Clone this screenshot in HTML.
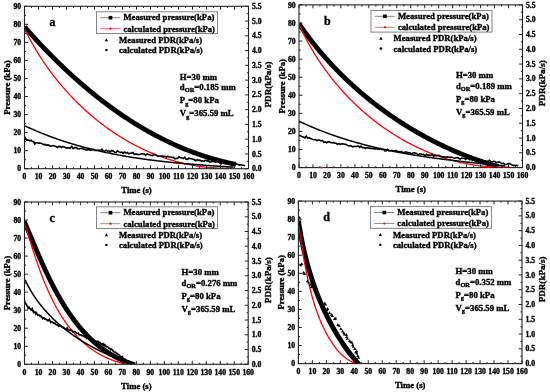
<!DOCTYPE html>
<html><head><meta charset="utf-8"><style>html,body{margin:0;padding:0;background:#fff;width:550px;height:392px;overflow:hidden}svg{display:block}text{fill:#000;stroke:#000;stroke-width:0.35px}</style></head>
<body><svg width="550" height="392" viewBox="0 0 550 392" style="font-family:'Liberation Serif',serif;font-weight:bold">
<clipPath id="clipa"><rect x="24.5" y="6.3" width="224.0" height="162.4"/></clipPath>
<g clip-path="url(#clipa)">
<path d="M24.53,26.79 L25.36,27.75 L26.20,28.70 L27.04,29.66 L27.89,30.61 L28.73,31.56 L29.58,32.52 L30.43,33.47 L31.28,34.41 L32.14,35.36 L33.00,36.31 L33.86,37.26 L34.72,38.20 L35.58,39.14 L36.45,40.09 L37.32,41.03 L38.19,41.97 L39.07,42.91 L39.94,43.84 L40.82,44.78 L41.70,45.71 L42.59,46.64 L43.47,47.58 L44.36,48.51 L45.25,49.43 L46.14,50.36 L47.04,51.29 L47.94,52.21 L48.84,53.13 L49.74,54.05 L50.64,54.97 L51.55,55.89 L52.46,56.80 L53.37,57.72 L54.28,58.63 L55.20,59.54 L56.12,60.44 L57.04,61.35 L57.96,62.26 L58.89,63.16 L59.82,64.06 L60.75,64.96 L61.68,65.85 L62.61,66.75 L63.55,67.64 L64.49,68.53 L65.43,69.42 L66.37,70.30 L67.32,71.19 L68.27,72.07 L69.22,72.95 L70.17,73.83 L71.13,74.70 L72.09,75.57 L73.05,76.44 L74.01,77.31 L74.97,78.18 L75.94,79.04 L76.91,79.90 L77.88,80.76 L78.86,81.62 L79.83,82.47 L80.81,83.32 L81.79,84.17 L82.77,85.01 L83.76,85.86 L84.75,86.70 L85.74,87.54 L86.73,88.37 L87.72,89.20 L88.72,90.03 L89.72,90.86 L90.72,91.68 L91.72,92.51 L92.73,93.32 L93.74,94.14 L94.75,94.95 L95.76,95.76 L96.77,96.57 L97.79,97.37 L98.81,98.17 L99.83,98.97 L100.85,99.77 L101.88,100.56 L102.91,101.35 L103.94,102.13 L104.97,102.91 L106.01,103.69 L107.04,104.47 L108.08,105.24 L109.12,106.01 L110.17,106.78 L111.21,107.54 L112.26,108.30 L113.31,109.05 L114.37,109.81 L115.42,110.56 L116.48,111.30 L117.54,112.04 L118.60,112.78 L119.66,113.52 L120.73,114.25 L121.80,114.98 L122.87,115.70 L123.94,116.42 L125.02,117.14 L126.09,117.85 L127.17,118.56 L128.26,119.27 L129.34,119.97 L130.43,120.67 L131.51,121.36 L132.60,122.05 L133.70,122.74 L134.79,123.42 L135.89,124.10 L136.99,124.78 L138.09,125.45 L139.19,126.11 L140.30,126.78 L141.41,127.44 L142.52,128.09 L143.63,128.74 L144.75,129.39 L145.86,130.03 L146.98,130.67 L148.10,131.30 L149.23,131.93 L150.35,132.55 L151.48,133.18 L152.61,133.79 L153.74,134.40 L154.88,135.01 L156.01,135.62 L157.15,136.21 L158.29,136.81 L159.44,137.40 L160.58,137.98 L161.73,138.56 L162.88,139.14 L164.03,139.71 L165.18,140.28 L166.34,140.84 L167.50,141.40 L168.66,141.95 L169.82,142.50 L170.99,143.04 L172.15,143.58 L173.32,144.12 L174.49,144.65 L175.67,145.17 L176.84,145.69 L178.02,146.20 L179.20,146.71 L180.38,147.22 L181.56,147.72 L182.75,148.21 L183.94,148.70 L185.13,149.18 L186.32,149.66 L187.52,150.14 L188.71,150.61 L189.91,151.07 L191.11,151.53 L192.32,151.98 L193.52,152.43 L194.73,152.87 L195.94,153.31 L197.15,153.74 L198.36,154.17 L199.58,154.59 L200.80,155.00 L202.02,155.41 L203.24,155.82 L204.46,156.22 L205.69,156.61 L206.92,157.00 L208.15,157.38 L209.38,157.76 L210.62,158.13 L211.86,158.50 L213.09,158.86 L214.34,159.21 L215.58,159.56 L216.82,159.90 L218.07,160.24 L219.32,160.57 L220.57,160.89 L221.83,161.21 L223.08,161.53 L224.34,161.83 L225.60,162.14 L226.86,162.43 L228.13,162.72 L229.39,163.00 L230.66,163.28 L231.93,163.55 L233.20,163.82 L234.48,164.08 L235.76,164.33" fill="none" stroke="#000" stroke-width="4.8" stroke-linecap="butt"/>
<path d="M24.68,29.02 L25.25,30.19 L25.83,31.37 L26.42,32.54 L27.01,33.71 L27.61,34.88 L28.21,36.04 L28.83,37.21 L29.44,38.37 L30.07,39.52 L30.70,40.68 L31.33,41.83 L31.97,42.98 L32.62,44.13 L33.27,45.27 L33.93,46.42 L34.60,47.56 L35.27,48.69 L35.94,49.83 L36.63,50.96 L37.31,52.09 L38.01,53.21 L38.71,54.33 L39.41,55.45 L40.13,56.57 L40.84,57.68 L41.57,58.79 L42.29,59.90 L43.03,61.00 L43.77,62.10 L44.51,63.20 L45.26,64.30 L46.02,65.39 L46.78,66.47 L47.55,67.56 L48.32,68.64 L49.10,69.71 L49.88,70.79 L50.67,71.85 L51.47,72.92 L52.27,73.98 L53.07,75.04 L53.88,76.09 L54.70,77.15 L55.52,78.19 L56.34,79.23 L57.18,80.27 L58.01,81.31 L58.85,82.34 L59.70,83.37 L60.55,84.39 L61.41,85.41 L62.27,86.42 L63.14,87.43 L64.01,88.44 L64.89,89.44 L65.77,90.44 L66.66,91.43 L67.55,92.42 L68.45,93.40 L69.35,94.38 L70.26,95.35 L71.17,96.33 L72.09,97.29 L73.01,98.25 L73.94,99.21 L74.87,100.16 L75.80,101.11 L76.74,102.05 L77.69,102.98 L78.64,103.92 L79.59,104.84 L80.55,105.77 L81.52,106.68 L82.49,107.59 L83.46,108.50 L84.44,109.40 L85.42,110.30 L86.41,111.19 L87.40,112.08 L88.39,112.96 L89.39,113.83 L90.40,114.70 L91.41,115.57 L92.42,116.43 L93.44,117.28 L94.46,118.13 L95.48,118.97 L96.51,119.81 L97.55,120.64 L98.59,121.46 L99.63,122.28 L100.68,123.10 L101.73,123.91 L102.79,124.71 L103.85,125.50 L104.91,126.29 L105.98,127.08 L107.05,127.86 L108.13,128.63 L109.21,129.39 L110.29,130.15 L111.38,130.91 L112.47,131.65 L113.57,132.40 L114.67,133.13 L115.77,133.86 L116.88,134.58 L117.99,135.30 L119.10,136.01 L120.22,136.71 L121.35,137.40 L122.47,138.09 L123.60,138.78 L124.74,139.45 L125.87,140.12 L127.01,140.78 L128.16,141.44 L129.31,142.09 L130.46,142.73 L131.62,143.37 L132.77,143.99 L133.94,144.61 L135.10,145.23 L136.27,145.84 L137.45,146.43 L138.62,147.03 L139.80,147.61 L140.99,148.19 L142.17,148.76 L143.36,149.33 L144.56,149.88 L145.75,150.43 L146.95,150.97 L148.16,151.51 L149.36,152.03 L150.57,152.55 L151.78,153.06 L153.00,153.57 L154.22,154.06 L155.44,154.55 L156.67,155.03 L157.89,155.50 L159.13,155.97 L160.36,156.42 L161.60,156.87 L162.84,157.31 L164.08,157.75 L165.33,158.17 L166.58,158.59 L167.83,159.00 L169.08,159.40 L170.34,159.79 L171.60,160.17 L172.86,160.55 L174.13,160.91 L175.40,161.27 L176.67,161.62 L177.94,161.97 L179.22,162.30 L180.50,162.62 L181.78,162.94 L183.07,163.25 L184.36,163.55 L185.65,163.84 L186.94,164.12 L188.23,164.39 L189.53,164.66 L190.83,164.91 L192.13,165.16 L193.44,165.39 L194.75,165.62 L196.06,165.84 L197.37,166.05 L198.68,166.25 L200.00,166.45 L201.32,166.63 L202.64,166.80 L203.96,166.97 L205.29,167.12 L206.62,167.27 L207.95,167.40 L209.28,167.53 L210.61,167.65 L211.95,167.76 L213.29,167.85 L214.63,167.94 L215.97,168.02 L217.32,168.09 L218.67,168.15 L220.02,168.20 L221.37,168.24 L222.72,168.27 L224.07,168.29 L225.43,168.30 L226.79,168.30 L228.15,168.29 L229.51,168.27 L230.88,168.24 L232.24,168.20" fill="none" stroke="#f00" stroke-width="1.3"/>
<path d="M25.17,125.97 L26.15,126.43 L27.14,126.89 L28.12,127.35 L29.11,127.80 L30.10,128.24 L31.09,128.69 L32.08,129.13 L33.07,129.56 L34.06,129.99 L35.05,130.42 L36.05,130.85 L37.04,131.27 L38.04,131.69 L39.03,132.10 L40.03,132.52 L41.03,132.92 L42.03,133.33 L43.03,133.73 L44.03,134.13 L45.04,134.52 L46.04,134.91 L47.04,135.30 L48.05,135.69 L49.06,136.07 L50.06,136.44 L51.07,136.82 L52.08,137.19 L53.09,137.56 L54.10,137.92 L55.12,138.28 L56.13,138.64 L57.14,139.00 L58.16,139.35 L59.17,139.70 L60.19,140.04 L61.21,140.39 L62.22,140.73 L63.24,141.06 L64.26,141.40 L65.28,141.73 L66.30,142.05 L67.33,142.38 L68.35,142.70 L69.37,143.02 L70.40,143.33 L71.42,143.65 L72.45,143.96 L73.48,144.26 L74.50,144.57 L75.53,144.87 L76.56,145.16 L77.59,145.46 L78.62,145.75 L79.65,146.04 L80.69,146.33 L81.72,146.61 L82.75,146.89 L83.79,147.17 L84.82,147.45 L85.86,147.72 L86.90,147.99 L87.93,148.26 L88.97,148.52 L90.01,148.79 L91.05,149.05 L92.09,149.30 L93.13,149.56 L94.17,149.81 L95.21,150.06 L96.25,150.31 L97.30,150.55 L98.34,150.79 L99.38,151.03 L100.43,151.27 L101.47,151.50 L102.52,151.73 L103.57,151.96 L104.61,152.19 L105.66,152.42 L106.71,152.64 L107.76,152.86 L108.81,153.08 L109.86,153.29 L110.91,153.51 L111.96,153.72 L113.01,153.92 L114.06,154.13 L115.12,154.34 L116.17,154.54 L117.22,154.74 L118.28,154.93 L119.33,155.13 L120.39,155.32 L121.44,155.51 L122.50,155.70 L123.56,155.89 L124.61,156.08 L125.67,156.26 L126.73,156.44 L127.79,156.62 L128.85,156.79 L129.90,156.97 L130.96,157.14 L132.02,157.31 L133.08,157.48 L134.14,157.65 L135.21,157.81 L136.27,157.98 L137.33,158.14 L138.39,158.30 L139.45,158.46 L140.52,158.61 L141.58,158.76 L142.64,158.92 L143.71,159.07 L144.77,159.22 L145.84,159.36 L146.90,159.51 L147.97,159.65 L149.03,159.79 L150.10,159.93 L151.16,160.07 L152.23,160.21 L153.30,160.34 L154.37,160.48 L155.43,160.61 L156.50,160.74 L157.57,160.87 L158.64,161.00 L159.70,161.12 L160.77,161.25 L161.84,161.37 L162.91,161.49 L163.98,161.61 L165.05,161.73 L166.12,161.85 L167.19,161.96 L168.26,162.08 L169.33,162.19 L170.40,162.30 L171.47,162.41 L172.54,162.52 L173.61,162.63 L174.68,162.73 L175.75,162.84 L176.82,162.94 L177.89,163.05 L178.96,163.15 L180.04,163.25 L181.11,163.35 L182.18,163.44 L183.25,163.54 L184.32,163.64 L185.40,163.73 L186.47,163.82 L187.54,163.92 L188.61,164.01 L189.68,164.10 L190.76,164.19 L191.83,164.28 L192.90,164.36 L193.97,164.45 L195.04,164.53 L196.12,164.62 L197.19,164.70 L198.26,164.78 L199.33,164.87 L200.41,164.95 L201.48,165.03 L202.55,165.11 L203.62,165.18 L204.70,165.26 L205.77,165.34 L206.84,165.41 L207.91,165.49 L208.98,165.56 L210.06,165.64 L211.13,165.71 L212.20,165.78 L213.27,165.85 L214.34,165.92 L215.41,165.99 L216.49,166.06 L217.56,166.13 L218.63,166.20 L219.70,166.27 L220.77,166.34 L221.84,166.40 L222.91,166.47 L223.98,166.54 L225.05,166.60 L226.12,166.67 L227.19,166.73 L228.26,166.79 L229.33,166.86 L230.40,166.92 L231.47,166.98 L232.54,167.05 L233.61,167.11" fill="none" stroke="#000" stroke-width="1.5"/>
<path d="M24.32,140.03 L25.40,137.95 L26.50,140.02 L27.63,139.89 L28.77,140.35 L29.94,140.86 L31.12,140.23 L32.31,141.56 L33.53,141.55 L34.76,144.18 L36.00,142.79 L37.26,142.77 L38.53,143.11 L39.81,143.17 L41.11,143.23 L42.41,143.86 L43.73,144.59 L45.06,144.44 L46.40,145.34 L47.75,144.93 L49.11,145.27 L50.48,146.32 L51.85,145.97 L53.23,145.59 L54.63,145.96 L56.02,146.55 L57.43,147.49 L58.84,146.45 L60.25,146.64 L61.67,147.49 L63.10,146.61 L64.53,147.09 L65.96,147.88 L67.40,147.87 L68.84,147.74 L70.28,148.20 L71.72,146.41 L73.16,148.67 L74.61,147.71 L76.05,147.46 L77.50,148.66 L78.94,149.02 L80.39,148.52 L81.83,148.30 L83.27,149.04 L84.71,149.12 L86.14,150.05 L87.58,149.82 L89.01,149.64 L90.45,150.28 L91.88,149.68 L93.31,149.41 L94.74,150.37 L96.17,150.49 L97.60,150.18 L99.02,149.99 L100.45,150.67 L101.87,149.30 L103.29,151.18 L104.71,151.19 L106.13,150.15 L107.55,151.21 L108.97,150.77 L110.39,151.84 L111.80,150.43 L113.22,151.17 L114.63,152.19 L116.05,152.56 L117.46,150.86 L118.87,151.90 L120.28,152.48 L121.69,152.09 L123.10,153.42 L124.51,152.02 L125.92,153.00 L127.33,152.35 L128.73,153.83 L130.14,153.17 L131.54,153.10 L132.95,152.49 L134.35,154.48 L135.75,154.10 L137.16,154.23 L138.56,154.56 L139.96,154.26 L141.36,153.84 L142.76,153.88 L144.16,154.01 L145.56,155.34 L146.96,153.91 L148.36,154.51 L149.76,154.80 L151.15,155.23 L152.55,155.55 L153.95,154.68 L155.35,154.55 L156.74,155.63 L158.14,156.43 L159.54,156.32 L160.93,156.15 L162.33,156.00 L163.72,156.47 L165.12,156.31 L166.51,157.03 L167.91,156.28 L169.31,156.93 L170.70,156.94 L172.10,157.44 L173.49,157.40 L174.89,158.82 L176.28,158.39 L177.68,158.53 L179.07,156.73 L180.47,157.81 L181.86,157.80 L183.26,158.58 L184.66,157.18 L186.05,159.23 L187.45,159.32 L188.85,158.16 L190.24,158.49 L191.64,158.74 L193.04,159.36 L194.44,159.84 L195.84,160.77 L197.23,159.69 L198.63,160.38 L200.03,160.20 L201.43,161.25 L202.83,160.85 L204.23,161.35 L205.64,160.17 L207.04,160.82 L208.44,160.64 L209.84,162.09 L211.25,161.79 L212.65,161.43 L214.06,161.52 L215.46,162.20 L216.87,161.72 L218.28,161.77 L219.68,162.72 L221.09,163.99 L222.50,162.68 L223.91,162.69 L225.32,162.53 L226.74,162.62 L228.15,163.83 L229.56,164.19 L230.98,163.92 L232.39,164.28 L233.81,164.36 L235.23,164.56 L236.64,163.84 L238.06,164.62 L239.48,165.13 L240.91,164.83 L242.33,165.20 L243.75,165.21 L245.18,165.68" fill="none" stroke="#000" stroke-width="1.6"/>
</g>
<rect x="24.5" y="6.3" width="224.0" height="162.4" fill="none" stroke="#222" stroke-width="1.1"/>
<path d="M24.50,168.70000000000002v-3.4M24.50,6.3v3.4M31.50,168.70000000000002v-1.6M31.50,6.3v1.6M38.50,168.70000000000002v-3.4M38.50,6.3v3.4M45.50,168.70000000000002v-1.6M45.50,6.3v1.6M52.50,168.70000000000002v-3.4M52.50,6.3v3.4M59.50,168.70000000000002v-1.6M59.50,6.3v1.6M66.50,168.70000000000002v-3.4M66.50,6.3v3.4M73.50,168.70000000000002v-1.6M73.50,6.3v1.6M80.50,168.70000000000002v-3.4M80.50,6.3v3.4M87.50,168.70000000000002v-1.6M87.50,6.3v1.6M94.50,168.70000000000002v-3.4M94.50,6.3v3.4M101.50,168.70000000000002v-1.6M101.50,6.3v1.6M108.50,168.70000000000002v-3.4M108.50,6.3v3.4M115.50,168.70000000000002v-1.6M115.50,6.3v1.6M122.50,168.70000000000002v-3.4M122.50,6.3v3.4M129.50,168.70000000000002v-1.6M129.50,6.3v1.6M136.50,168.70000000000002v-3.4M136.50,6.3v3.4M143.50,168.70000000000002v-1.6M143.50,6.3v1.6M150.50,168.70000000000002v-3.4M150.50,6.3v3.4M157.50,168.70000000000002v-1.6M157.50,6.3v1.6M164.50,168.70000000000002v-3.4M164.50,6.3v3.4M171.50,168.70000000000002v-1.6M171.50,6.3v1.6M178.50,168.70000000000002v-3.4M178.50,6.3v3.4M185.50,168.70000000000002v-1.6M185.50,6.3v1.6M192.50,168.70000000000002v-3.4M192.50,6.3v3.4M199.50,168.70000000000002v-1.6M199.50,6.3v1.6M206.50,168.70000000000002v-3.4M206.50,6.3v3.4M213.50,168.70000000000002v-1.6M213.50,6.3v1.6M220.50,168.70000000000002v-3.4M220.50,6.3v3.4M227.50,168.70000000000002v-1.6M227.50,6.3v1.6M234.50,168.70000000000002v-3.4M234.50,6.3v3.4M241.50,168.70000000000002v-1.6M241.50,6.3v1.6M248.50,168.70000000000002v-3.4M248.50,6.3v3.4M24.5,168.70h3.4M24.5,159.68h1.6M24.5,150.66h3.4M24.5,141.63h1.6M24.5,132.61h3.4M24.5,123.59h1.6M24.5,114.57h3.4M24.5,105.54h1.6M24.5,96.52h3.4M24.5,87.50h1.6M24.5,78.48h3.4M24.5,69.46h1.6M24.5,60.43h3.4M24.5,51.41h1.6M24.5,42.39h3.4M24.5,33.37h1.6M24.5,24.34h3.4M24.5,15.32h1.6M24.5,6.30h3.4M248.5,168.70h-3.4M248.5,161.32h-1.6M248.5,153.94h-3.4M248.5,146.55h-1.6M248.5,139.17h-3.4M248.5,131.79h-1.6M248.5,124.41h-3.4M248.5,117.03h-1.6M248.5,109.65h-3.4M248.5,102.26h-1.6M248.5,94.88h-3.4M248.5,87.50h-1.6M248.5,80.12h-3.4M248.5,72.74h-1.6M248.5,65.35h-3.4M248.5,57.97h-1.6M248.5,50.59h-3.4M248.5,43.21h-1.6M248.5,35.83h-3.4M248.5,28.45h-1.6M248.5,21.06h-3.4M248.5,13.68h-1.6M248.5,6.30h-3.4" stroke="#222" stroke-width="1" fill="none"/>
<g style="font-size:7.7px"><text x="21.20" y="171.30" text-anchor="end">0</text><text x="21.20" y="153.26" text-anchor="end">10</text><text x="21.20" y="135.21" text-anchor="end">20</text><text x="21.20" y="117.17" text-anchor="end">30</text><text x="21.20" y="99.12" text-anchor="end">40</text><text x="21.20" y="81.08" text-anchor="end">50</text><text x="21.20" y="63.03" text-anchor="end">60</text><text x="21.20" y="44.99" text-anchor="end">70</text><text x="21.20" y="26.94" text-anchor="end">80</text><text x="21.20" y="8.90" text-anchor="end">90</text><text x="24.50" y="179.10" text-anchor="middle">0</text><text x="38.50" y="179.10" text-anchor="middle">10</text><text x="52.50" y="179.10" text-anchor="middle">20</text><text x="66.50" y="179.10" text-anchor="middle">30</text><text x="80.50" y="179.10" text-anchor="middle">40</text><text x="94.50" y="179.10" text-anchor="middle">50</text><text x="108.50" y="179.10" text-anchor="middle">60</text><text x="122.50" y="179.10" text-anchor="middle">70</text><text x="136.50" y="179.10" text-anchor="middle">80</text><text x="150.50" y="179.10" text-anchor="middle">90</text><text x="164.50" y="179.10" text-anchor="middle">100</text><text x="178.50" y="179.10" text-anchor="middle">110</text><text x="192.50" y="179.10" text-anchor="middle">120</text><text x="206.50" y="179.10" text-anchor="middle">130</text><text x="220.50" y="179.10" text-anchor="middle">140</text><text x="234.50" y="179.10" text-anchor="middle">150</text><text x="248.50" y="179.10" text-anchor="middle">160</text><text x="252.00" y="171.30">0.0</text><text x="252.00" y="156.54">0.5</text><text x="252.00" y="141.77">1.0</text><text x="252.00" y="127.01">1.5</text><text x="252.00" y="112.25">2.0</text><text x="252.00" y="97.48">2.5</text><text x="252.00" y="82.72">3.0</text><text x="252.00" y="67.95">3.5</text><text x="252.00" y="53.19">4.0</text><text x="252.00" y="38.43">4.5</text><text x="252.00" y="23.66">5.0</text><text x="252.00" y="8.90">5.5</text></g>
<text transform="translate(10.00,87.50) rotate(-90)" text-anchor="middle" style="font-size:8.7px">Pressure (kPa)</text>
<text transform="translate(271.30,84.50) rotate(-90)" text-anchor="middle" style="font-size:9.1px">PDR(kPa/s)</text>
<text x="136.50" y="193.00" text-anchor="middle" style="font-size:8.7px">Time (s)</text>
<text x="49.40" y="26.20" style="font-size:12px">a</text>
<rect x="96.50" y="11.80" width="121" height="21.7" fill="#fff" stroke="#777" stroke-width="0.9"/>
<path d="M100.30,17.70h20" stroke="#666" stroke-width="0.8"/>
<rect x="108.60" y="15.90" width="3.7" height="3.6" fill="#000"/>
<path d="M100.30,28.70h20" stroke="#f44" stroke-width="0.8"/>
<circle cx="110.50" cy="28.70" r="1.1" fill="#f00"/>
<text x="123.40" y="20.10" style="font-size:8.7px">Measured pressure(kPa)</text>
<text x="123.40" y="31.60" style="font-size:8.7px">calculated pressure(kPa)</text>
<path d="M104.70,41.20l1.7,-3l1.7,3z" fill="#000"/>
<text x="119.00" y="42.80" style="font-size:8.7px">Measured PDR(kPa/s)</text>
<circle cx="106.40" cy="50.00" r="1.3" fill="#000"/>
<text x="119.00" y="53.30" style="font-size:8.7px">calculated PDR(kPa/s)</text>
<g style="font-size:8.75px">
<text x="179.80" y="79.50">H=30 mm</text>
<text x="179.80" y="90.00">d<tspan dy="2.3" style="font-size:6.4px">OR</tspan><tspan dy="-2.3">=0.185 mm</tspan></text>
<text x="179.80" y="103.30">P<tspan dy="2.3" style="font-size:6.4px">g</tspan><tspan dy="-2.3">=80 kPa</tspan></text>
<text x="179.80" y="116.20">V<tspan dy="2.3" style="font-size:6.4px">g</tspan><tspan dy="-2.3">=365.59 mL</tspan></text>
</g>
<clipPath id="clipb"><rect x="299.0" y="4.9" width="223.5" height="162.7"/></clipPath>
<g clip-path="url(#clipb)">
<path d="M298.89,23.53 L299.59,24.56 L300.29,25.58 L300.99,26.61 L301.70,27.63 L302.41,28.65 L303.13,29.67 L303.85,30.68 L304.58,31.69 L305.31,32.70 L306.04,33.71 L306.78,34.71 L307.52,35.72 L308.26,36.71 L309.01,37.71 L309.77,38.71 L310.53,39.70 L311.29,40.69 L312.05,41.67 L312.82,42.66 L313.60,43.64 L314.37,44.62 L315.16,45.60 L315.94,46.57 L316.73,47.54 L317.52,48.51 L318.32,49.47 L319.12,50.44 L319.93,51.40 L320.73,52.36 L321.55,53.31 L322.36,54.26 L323.18,55.21 L324.00,56.16 L324.83,57.10 L325.66,58.04 L326.50,58.98 L327.33,59.92 L328.18,60.85 L329.02,61.78 L329.87,62.71 L330.72,63.63 L331.58,64.55 L332.44,65.47 L333.30,66.39 L334.17,67.30 L335.04,68.21 L335.91,69.12 L336.79,70.02 L337.67,70.92 L338.55,71.82 L339.44,72.72 L340.33,73.61 L341.22,74.50 L342.12,75.39 L343.02,76.27 L343.92,77.15 L344.83,78.03 L345.74,78.90 L346.65,79.78 L347.57,80.64 L348.49,81.51 L349.41,82.37 L350.34,83.23 L351.27,84.09 L352.20,84.94 L353.14,85.79 L354.08,86.64 L355.02,87.48 L355.96,88.32 L356.91,89.16 L357.86,89.99 L358.82,90.82 L359.78,91.65 L360.74,92.48 L361.70,93.30 L362.67,94.12 L363.63,94.93 L364.61,95.74 L365.58,96.55 L366.56,97.36 L367.54,98.16 L368.52,98.96 L369.51,99.75 L370.50,100.55 L371.49,101.33 L372.49,102.12 L373.48,102.90 L374.48,103.68 L375.49,104.46 L376.49,105.23 L377.50,106.00 L378.51,106.76 L379.53,107.52 L380.54,108.28 L381.56,109.04 L382.58,109.79 L383.61,110.54 L384.63,111.28 L385.66,112.02 L386.70,112.76 L387.73,113.50 L388.77,114.23 L389.81,114.95 L390.85,115.68 L391.89,116.40 L392.94,117.11 L393.99,117.83 L395.04,118.54 L396.10,119.24 L397.15,119.94 L398.21,120.64 L399.27,121.34 L400.34,122.03 L401.40,122.72 L402.47,123.40 L403.54,124.08 L404.61,124.76 L405.69,125.43 L406.76,126.10 L407.84,126.77 L408.92,127.43 L410.01,128.09 L411.09,128.74 L412.18,129.39 L413.27,130.04 L414.36,130.68 L415.46,131.32 L416.55,131.96 L417.65,132.59 L418.75,133.21 L419.85,133.84 L420.96,134.46 L422.06,135.08 L423.17,135.69 L424.28,136.30 L425.39,136.90 L426.51,137.50 L427.62,138.10 L428.74,138.69 L429.86,139.28 L430.98,139.87 L432.10,140.45 L433.23,141.03 L434.35,141.60 L435.48,142.17 L436.61,142.73 L437.74,143.29 L438.88,143.85 L440.01,144.40 L441.15,144.95 L442.29,145.50 L443.43,146.04 L444.57,146.58 L445.71,147.11 L446.86,147.64 L448.00,148.16 L449.15,148.68 L450.30,149.20 L451.45,149.71 L452.60,150.22 L453.76,150.72 L454.91,151.22 L456.07,151.72 L457.23,152.21 L458.39,152.70 L459.55,153.18 L460.71,153.66 L461.88,154.14 L463.04,154.61 L464.21,155.07 L465.37,155.53 L466.54,155.99 L467.71,156.44 L468.89,156.89 L470.06,157.34 L471.23,157.78 L472.41,158.21 L473.58,158.64 L474.76,159.07 L475.94,159.49 L477.12,159.91 L478.30,160.33 L479.48,160.74 L480.67,161.14 L481.85,161.54 L483.03,161.94 L484.22,162.33 L485.41,162.72 L486.60,163.10 L487.79,163.48 L488.98,163.85 L490.17,164.22 L491.36,164.59 L492.55,164.95 L493.75,165.30 L494.94,165.65 L496.14,166.00 L497.33,166.34 L498.53,166.68" fill="none" stroke="#000" stroke-width="4.8" stroke-linecap="butt"/>
<path d="M298.58,23.15 L299.12,24.38 L299.67,25.61 L300.22,26.83 L300.78,28.06 L301.34,29.28 L301.92,30.49 L302.50,31.71 L303.08,32.92 L303.68,34.13 L304.28,35.33 L304.89,36.54 L305.51,37.74 L306.13,38.93 L306.76,40.13 L307.39,41.32 L308.04,42.51 L308.69,43.69 L309.34,44.88 L310.01,46.05 L310.68,47.23 L311.36,48.40 L312.04,49.57 L312.73,50.74 L313.43,51.90 L314.13,53.06 L314.84,54.22 L315.56,55.37 L316.28,56.52 L317.01,57.67 L317.74,58.81 L318.49,59.95 L319.23,61.08 L319.99,62.22 L320.75,63.34 L321.52,64.47 L322.29,65.59 L323.07,66.70 L323.86,67.82 L324.65,68.92 L325.45,70.03 L326.25,71.13 L327.06,72.23 L327.88,73.32 L328.70,74.41 L329.53,75.49 L330.36,76.57 L331.21,77.65 L332.05,78.72 L332.90,79.78 L333.76,80.85 L334.63,81.90 L335.50,82.96 L336.37,84.01 L337.25,85.05 L338.14,86.09 L339.03,87.13 L339.93,88.16 L340.83,89.18 L341.74,90.20 L342.66,91.22 L343.58,92.23 L344.50,93.24 L345.43,94.24 L346.37,95.24 L347.31,96.23 L348.26,97.22 L349.21,98.20 L350.17,99.17 L351.13,100.14 L352.10,101.11 L353.07,102.07 L354.05,103.03 L355.04,103.98 L356.03,104.92 L357.02,105.86 L358.02,106.80 L359.02,107.72 L360.03,108.65 L361.05,109.57 L362.07,110.48 L363.09,111.38 L364.12,112.28 L365.15,113.18 L366.19,114.07 L367.24,114.95 L368.28,115.83 L369.34,116.70 L370.39,117.57 L371.46,118.42 L372.52,119.28 L373.60,120.13 L374.67,120.97 L375.75,121.80 L376.84,122.63 L377.93,123.45 L379.02,124.27 L380.12,125.08 L381.23,125.88 L382.33,126.68 L383.44,127.47 L384.56,128.26 L385.68,129.04 L386.81,129.81 L387.94,130.57 L389.07,131.33 L390.21,132.08 L391.35,132.83 L392.49,133.56 L393.64,134.30 L394.80,135.02 L395.96,135.74 L397.12,136.45 L398.28,137.15 L399.45,137.85 L400.63,138.54 L401.81,139.22 L402.99,139.90 L404.17,140.56 L405.36,141.23 L406.56,141.88 L407.75,142.53 L408.95,143.17 L410.16,143.80 L411.36,144.42 L412.58,145.04 L413.79,145.65 L415.01,146.25 L416.23,146.84 L417.46,147.43 L418.69,148.01 L419.92,148.58 L421.16,149.14 L422.39,149.70 L423.64,150.25 L424.88,150.79 L426.13,151.32 L427.39,151.85 L428.64,152.36 L429.90,152.87 L431.16,153.37 L432.43,153.86 L433.70,154.35 L434.97,154.82 L436.24,155.29 L437.52,155.75 L438.80,156.20 L440.09,156.64 L441.37,157.08 L442.66,157.50 L443.96,157.92 L445.25,158.33 L446.55,158.73 L447.85,159.12 L449.15,159.50 L450.46,159.88 L451.77,160.24 L453.08,160.60 L454.40,160.95 L455.71,161.29 L457.03,161.62 L458.36,161.94 L459.68,162.25 L461.01,162.55 L462.34,162.85 L463.67,163.13 L465.00,163.41 L466.34,163.68 L467.68,163.93 L469.02,164.18 L470.37,164.42 L471.71,164.65 L473.06,164.87 L474.41,165.08 L475.77,165.28 L477.12,165.48 L478.48,165.66 L479.84,165.83 L481.20,166.00 L482.56,166.15 L483.93,166.29 L485.30,166.43 L486.67,166.55 L488.04,166.67 L489.41,166.77 L490.79,166.87 L492.16,166.95 L493.54,167.02 L494.92,167.09 L496.30,167.14 L497.69,167.19 L499.07,167.22 L500.46,167.25 L501.85,167.26 L503.24,167.27 L504.63,167.26 L506.03,167.24 L507.42,167.21 L508.82,167.18 L510.22,167.13" fill="none" stroke="#f00" stroke-width="1.3"/>
<path d="M299.12,121.21 L300.09,121.67 L301.06,122.14 L302.04,122.59 L303.02,123.05 L303.99,123.50 L304.97,123.94 L305.95,124.39 L306.93,124.83 L307.91,125.26 L308.89,125.69 L309.88,126.12 L310.86,126.55 L311.85,126.97 L312.83,127.39 L313.82,127.80 L314.81,128.22 L315.80,128.63 L316.79,129.03 L317.78,129.43 L318.77,129.83 L319.76,130.23 L320.75,130.62 L321.75,131.01 L322.74,131.39 L323.74,131.78 L324.74,132.16 L325.73,132.53 L326.73,132.90 L327.73,133.27 L328.73,133.64 L329.73,134.00 L330.74,134.37 L331.74,134.72 L332.74,135.08 L333.75,135.43 L334.75,135.78 L335.76,136.12 L336.77,136.47 L337.77,136.80 L338.78,137.14 L339.79,137.48 L340.80,137.81 L341.81,138.13 L342.82,138.46 L343.83,138.78 L344.85,139.10 L345.86,139.42 L346.88,139.73 L347.89,140.04 L348.91,140.35 L349.92,140.66 L350.94,140.96 L351.96,141.26 L352.98,141.56 L354.00,141.85 L355.02,142.14 L356.04,142.43 L357.06,142.72 L358.08,143.01 L359.10,143.29 L360.13,143.57 L361.15,143.84 L362.18,144.12 L363.20,144.39 L364.23,144.66 L365.26,144.93 L366.28,145.19 L367.31,145.45 L368.34,145.71 L369.37,145.97 L370.40,146.22 L371.43,146.48 L372.46,146.73 L373.49,146.98 L374.52,147.22 L375.56,147.46 L376.59,147.71 L377.62,147.94 L378.66,148.18 L379.69,148.42 L380.73,148.65 L381.76,148.88 L382.80,149.11 L383.84,149.33 L384.87,149.56 L385.91,149.78 L386.95,150.00 L387.99,150.21 L389.03,150.43 L390.07,150.64 L391.11,150.86 L392.15,151.07 L393.19,151.27 L394.23,151.48 L395.28,151.68 L396.32,151.88 L397.36,152.08 L398.41,152.28 L399.45,152.48 L400.49,152.67 L401.54,152.87 L402.58,153.06 L403.63,153.25 L404.68,153.43 L405.72,153.62 L406.77,153.80 L407.82,153.98 L408.86,154.16 L409.91,154.34 L410.96,154.52 L412.01,154.70 L413.06,154.87 L414.11,155.04 L415.16,155.21 L416.21,155.38 L417.26,155.55 L418.31,155.72 L419.36,155.88 L420.41,156.04 L421.46,156.21 L422.52,156.37 L423.57,156.52 L424.62,156.68 L425.67,156.84 L426.73,156.99 L427.78,157.15 L428.83,157.30 L429.89,157.45 L430.94,157.60 L432.00,157.75 L433.05,157.89 L434.11,158.04 L435.16,158.18 L436.22,158.33 L437.27,158.47 L438.33,158.61 L439.38,158.75 L440.44,158.89 L441.50,159.02 L442.55,159.16 L443.61,159.30 L444.67,159.43 L445.72,159.56 L446.78,159.70 L447.84,159.83 L448.90,159.96 L449.95,160.09 L451.01,160.21 L452.07,160.34 L453.13,160.47 L454.19,160.59 L455.25,160.72 L456.30,160.84 L457.36,160.96 L458.42,161.09 L459.48,161.21 L460.54,161.33 L461.60,161.45 L462.66,161.57 L463.72,161.68 L464.78,161.80 L465.83,161.92 L466.89,162.03 L467.95,162.15 L469.01,162.27 L470.07,162.38 L471.13,162.49 L472.19,162.61 L473.25,162.72 L474.31,162.83 L475.37,162.94 L476.43,163.05 L477.49,163.16 L478.55,163.27 L479.61,163.38 L480.67,163.49 L481.72,163.60 L482.78,163.71 L483.84,163.82 L484.90,163.92 L485.96,164.03 L487.02,164.14 L488.08,164.24 L489.14,164.35 L490.20,164.46 L491.26,164.56 L492.31,164.67 L493.37,164.77 L494.43,164.88 L495.49,164.98 L496.55,165.09 L497.61,165.19 L498.66,165.30 L499.72,165.40 L500.78,165.50 L501.84,165.61 L502.89,165.71 L503.95,165.82 L505.01,165.92" fill="none" stroke="#000" stroke-width="1.5"/>
<path d="M298.15,135.90 L299.49,135.54 L300.84,136.00 L302.19,136.86 L303.53,137.08 L304.88,137.97 L306.24,136.20 L307.59,138.13 L308.94,137.70 L310.29,138.33 L311.65,139.02 L313.01,139.44 L314.36,139.71 L315.72,139.51 L317.08,140.59 L318.44,139.83 L319.80,140.18 L321.17,140.97 L322.53,140.49 L323.89,142.25 L325.26,141.88 L326.62,142.78 L327.99,141.82 L329.36,141.88 L330.73,142.43 L332.10,142.99 L333.47,142.50 L334.84,143.27 L336.21,143.29 L337.58,144.42 L338.96,143.40 L340.33,144.57 L341.71,143.87 L343.09,143.92 L344.46,144.28 L345.84,144.23 L347.22,145.18 L348.60,145.88 L349.98,145.62 L351.36,146.08 L352.74,146.84 L354.12,146.29 L355.50,146.45 L356.89,146.39 L358.27,145.86 L359.66,147.35 L361.04,146.16 L362.43,147.68 L363.81,147.50 L365.20,148.31 L366.59,147.84 L367.98,147.61 L369.36,148.44 L370.75,148.11 L372.14,148.50 L373.53,148.80 L374.92,148.87 L376.31,149.02 L377.71,148.83 L379.10,149.36 L380.49,148.45 L381.88,149.71 L383.28,149.30 L384.67,150.74 L386.06,150.98 L387.46,149.37 L388.85,150.68 L390.25,150.69 L391.64,150.34 L393.04,151.37 L394.43,150.97 L395.83,150.41 L397.23,151.39 L398.62,151.61 L400.02,151.90 L401.42,151.31 L402.81,152.48 L404.21,152.69 L405.61,151.80 L407.01,152.22 L408.41,152.68 L409.80,152.56 L411.20,153.97 L412.60,153.27 L414.00,152.75 L415.40,153.01 L416.80,153.56 L418.20,155.00 L419.59,153.78 L420.99,154.09 L422.39,154.44 L423.79,154.28 L425.19,155.70 L426.59,154.29 L427.99,155.13 L429.39,154.95 L430.79,155.35 L432.19,154.50 L433.59,156.26 L434.99,155.36 L436.38,155.59 L437.78,155.20 L439.18,155.46 L440.58,156.31 L441.98,156.68 L443.38,156.70 L444.77,157.09 L446.17,156.97 L447.57,156.73 L448.97,157.32 L450.36,157.34 L451.76,157.10 L453.16,157.70 L454.56,158.16 L455.95,157.73 L457.35,157.55 L458.74,158.29 L460.14,159.10 L461.53,158.09 L462.93,158.31 L464.32,158.44 L465.72,159.34 L467.11,157.81 L468.50,159.18 L469.90,159.79 L471.29,158.85 L472.68,160.28 L474.07,159.92 L475.46,159.49 L476.85,160.07 L478.25,159.28 L479.64,159.98 L481.02,161.46 L482.41,160.14 L483.80,161.82 L485.19,160.93 L486.58,161.70 L487.96,161.36 L489.35,160.28 L490.73,161.38 L492.12,161.98 L493.50,161.43 L494.89,161.51 L496.27,162.64 L497.65,162.28 L499.03,161.90 L500.42,162.65 L501.80,163.70 L503.17,163.16 L504.55,164.14 L505.93,164.67 L507.31,164.06 L508.69,163.63 L510.06,163.74 L511.44,164.66 L512.81,165.38 L514.18,165.26 L515.56,165.64 L516.93,165.32 L518.30,165.95" fill="none" stroke="#000" stroke-width="1.6"/>
</g>
<rect x="299.0" y="4.9" width="223.5" height="162.7" fill="none" stroke="#222" stroke-width="1.1"/>
<path d="M299.00,167.6v-3.4M299.00,4.9v3.4M305.98,167.6v-1.6M305.98,4.9v1.6M312.97,167.6v-3.4M312.97,4.9v3.4M319.95,167.6v-1.6M319.95,4.9v1.6M326.94,167.6v-3.4M326.94,4.9v3.4M333.92,167.6v-1.6M333.92,4.9v1.6M340.91,167.6v-3.4M340.91,4.9v3.4M347.89,167.6v-1.6M347.89,4.9v1.6M354.88,167.6v-3.4M354.88,4.9v3.4M361.86,167.6v-1.6M361.86,4.9v1.6M368.84,167.6v-3.4M368.84,4.9v3.4M375.83,167.6v-1.6M375.83,4.9v1.6M382.81,167.6v-3.4M382.81,4.9v3.4M389.80,167.6v-1.6M389.80,4.9v1.6M396.78,167.6v-3.4M396.78,4.9v3.4M403.77,167.6v-1.6M403.77,4.9v1.6M410.75,167.6v-3.4M410.75,4.9v3.4M417.73,167.6v-1.6M417.73,4.9v1.6M424.72,167.6v-3.4M424.72,4.9v3.4M431.70,167.6v-1.6M431.70,4.9v1.6M438.69,167.6v-3.4M438.69,4.9v3.4M445.67,167.6v-1.6M445.67,4.9v1.6M452.66,167.6v-3.4M452.66,4.9v3.4M459.64,167.6v-1.6M459.64,4.9v1.6M466.62,167.6v-3.4M466.62,4.9v3.4M473.61,167.6v-1.6M473.61,4.9v1.6M480.59,167.6v-3.4M480.59,4.9v3.4M487.58,167.6v-1.6M487.58,4.9v1.6M494.56,167.6v-3.4M494.56,4.9v3.4M501.55,167.6v-1.6M501.55,4.9v1.6M508.53,167.6v-3.4M508.53,4.9v3.4M515.52,167.6v-1.6M515.52,4.9v1.6M522.50,167.6v-3.4M522.50,4.9v3.4M299.0,167.60h3.4M299.0,158.56h1.6M299.0,149.52h3.4M299.0,140.48h1.6M299.0,131.44h3.4M299.0,122.41h1.6M299.0,113.37h3.4M299.0,104.33h1.6M299.0,95.29h3.4M299.0,86.25h1.6M299.0,77.21h3.4M299.0,68.17h1.6M299.0,59.13h3.4M299.0,50.09h1.6M299.0,41.06h3.4M299.0,32.02h1.6M299.0,22.98h3.4M299.0,13.94h1.6M299.0,4.90h3.4M522.5,167.60h-3.4M522.5,160.20h-1.6M522.5,152.81h-3.4M522.5,145.41h-1.6M522.5,138.02h-3.4M522.5,130.62h-1.6M522.5,123.23h-3.4M522.5,115.83h-1.6M522.5,108.44h-3.4M522.5,101.04h-1.6M522.5,93.65h-3.4M522.5,86.25h-1.6M522.5,78.85h-3.4M522.5,71.46h-1.6M522.5,64.06h-3.4M522.5,56.67h-1.6M522.5,49.27h-3.4M522.5,41.88h-1.6M522.5,34.48h-3.4M522.5,27.09h-1.6M522.5,19.69h-3.4M522.5,12.30h-1.6M522.5,4.90h-3.4" stroke="#222" stroke-width="1" fill="none"/>
<rect x="319.8" y="166.9" width="3.2" height="1.3" fill="#f00"/>
<g style="font-size:7.7px"><text x="295.70" y="170.20" text-anchor="end">0</text><text x="295.70" y="152.12" text-anchor="end">10</text><text x="295.70" y="134.04" text-anchor="end">20</text><text x="295.70" y="115.97" text-anchor="end">30</text><text x="295.70" y="97.89" text-anchor="end">40</text><text x="295.70" y="79.81" text-anchor="end">50</text><text x="295.70" y="61.73" text-anchor="end">60</text><text x="295.70" y="43.66" text-anchor="end">70</text><text x="295.70" y="25.58" text-anchor="end">80</text><text x="295.70" y="7.50" text-anchor="end">90</text><text x="299.00" y="178.00" text-anchor="middle">0</text><text x="312.97" y="178.00" text-anchor="middle">10</text><text x="326.94" y="178.00" text-anchor="middle">20</text><text x="340.91" y="178.00" text-anchor="middle">30</text><text x="354.88" y="178.00" text-anchor="middle">40</text><text x="368.84" y="178.00" text-anchor="middle">50</text><text x="382.81" y="178.00" text-anchor="middle">60</text><text x="396.78" y="178.00" text-anchor="middle">70</text><text x="410.75" y="178.00" text-anchor="middle">80</text><text x="424.72" y="178.00" text-anchor="middle">90</text><text x="438.69" y="178.00" text-anchor="middle">100</text><text x="452.66" y="178.00" text-anchor="middle">110</text><text x="466.62" y="178.00" text-anchor="middle">120</text><text x="480.59" y="178.00" text-anchor="middle">130</text><text x="494.56" y="178.00" text-anchor="middle">140</text><text x="508.53" y="178.00" text-anchor="middle">150</text><text x="522.50" y="178.00" text-anchor="middle">160</text><text x="526.00" y="170.20">0.0</text><text x="526.00" y="155.41">0.5</text><text x="526.00" y="140.62">1.0</text><text x="526.00" y="125.83">1.5</text><text x="526.00" y="111.04">2.0</text><text x="526.00" y="96.25">2.5</text><text x="526.00" y="81.45">3.0</text><text x="526.00" y="66.66">3.5</text><text x="526.00" y="51.87">4.0</text><text x="526.00" y="37.08">4.5</text><text x="526.00" y="22.29">5.0</text><text x="526.00" y="7.50">5.5</text></g>
<text transform="translate(284.50,86.25) rotate(-90)" text-anchor="middle" style="font-size:8.7px">Pressure (kPa)</text>
<text transform="translate(545.30,83.25) rotate(-90)" text-anchor="middle" style="font-size:9.1px">PDR(kPa/s)</text>
<text x="410.75" y="191.90" text-anchor="middle" style="font-size:8.7px">Time (s)</text>
<text x="323.90" y="24.80" style="font-size:12px">b</text>
<rect x="371.00" y="10.40" width="121" height="21.7" fill="#fff" stroke="#777" stroke-width="0.9"/>
<path d="M374.80,16.30h20" stroke="#666" stroke-width="0.8"/>
<rect x="383.10" y="14.50" width="3.7" height="3.6" fill="#000"/>
<path d="M374.80,27.30h20" stroke="#f44" stroke-width="0.8"/>
<circle cx="385.00" cy="27.30" r="1.1" fill="#f00"/>
<text x="397.90" y="18.70" style="font-size:8.7px">Measured pressure(kPa)</text>
<text x="397.90" y="30.20" style="font-size:8.7px">calculated pressure(kPa)</text>
<path d="M379.20,39.80l1.7,-3l1.7,3z" fill="#000"/>
<text x="393.50" y="41.40" style="font-size:8.7px">Measured PDR(kPa/s)</text>
<circle cx="380.90" cy="48.60" r="1.3" fill="#000"/>
<text x="393.50" y="51.90" style="font-size:8.7px">calculated PDR(kPa/s)</text>
<g style="font-size:8.75px">
<text x="455.90" y="78.10">H=30 mm</text>
<text x="455.90" y="88.60">d<tspan dy="2.3" style="font-size:6.4px">OR</tspan><tspan dy="-2.3">=0.189 mm</tspan></text>
<text x="455.90" y="101.90">P<tspan dy="2.3" style="font-size:6.4px">g</tspan><tspan dy="-2.3">=80 kPa</tspan></text>
<text x="455.90" y="114.80">V<tspan dy="2.3" style="font-size:6.4px">g</tspan><tspan dy="-2.3">=365.59 mL</tspan></text>
</g>
<clipPath id="clipc"><rect x="24.5" y="202.0" width="223.7" height="162.3"/></clipPath>
<g clip-path="url(#clipc)">
<path d="M24.18,221.31 L24.53,222.11 L24.88,222.92 L25.23,223.73 L25.59,224.55 L25.94,225.36 L26.29,226.18 L26.64,227.01 L26.99,227.83 L27.34,228.66 L27.70,229.49 L28.05,230.32 L28.40,231.15 L28.76,231.99 L29.11,232.83 L29.47,233.67 L29.83,234.51 L30.18,235.35 L30.54,236.20 L30.90,237.05 L31.26,237.90 L31.62,238.75 L31.98,239.60 L32.34,240.45 L32.70,241.31 L33.07,242.17 L33.43,243.03 L33.79,243.89 L34.16,244.75 L34.53,245.61 L34.89,246.47 L35.26,247.34 L35.63,248.20 L36.00,249.07 L36.38,249.94 L36.75,250.81 L37.12,251.68 L37.50,252.55 L37.88,253.42 L38.26,254.29 L38.63,255.17 L39.02,256.04 L39.40,256.91 L39.78,257.79 L40.17,258.66 L40.55,259.54 L40.94,260.41 L41.33,261.29 L41.72,262.17 L42.11,263.04 L42.51,263.92 L42.90,264.80 L43.30,265.67 L43.70,266.55 L44.10,267.42 L44.50,268.30 L44.91,269.18 L45.31,270.05 L45.72,270.93 L46.13,271.80 L46.54,272.68 L46.95,273.55 L47.37,274.42 L47.79,275.30 L48.21,276.17 L48.63,277.04 L49.05,277.91 L49.48,278.78 L49.90,279.65 L50.33,280.52 L50.76,281.38 L51.20,282.25 L51.63,283.12 L52.07,283.98 L52.51,284.84 L52.95,285.70 L53.40,286.56 L53.85,287.42 L54.30,288.28 L54.75,289.13 L55.20,289.99 L55.66,290.84 L56.12,291.69 L56.58,292.54 L57.05,293.39 L57.51,294.23 L57.98,295.08 L58.46,295.92 L58.93,296.76 L59.41,297.59 L59.89,298.43 L60.37,299.26 L60.86,300.09 L61.35,300.92 L61.84,301.75 L62.34,302.57 L62.83,303.40 L63.33,304.21 L63.84,305.03 L64.34,305.85 L64.85,306.66 L65.36,307.47 L65.88,308.27 L66.40,309.07 L66.92,309.88 L67.44,310.67 L67.97,311.47 L68.50,312.26 L69.04,313.05 L69.58,313.83 L70.12,314.61 L70.66,315.39 L71.21,316.17 L71.76,316.94 L72.31,317.71 L72.87,318.47 L73.43,319.24 L74.00,319.99 L74.56,320.75 L75.14,321.50 L75.71,322.25 L76.29,322.99 L76.87,323.73 L77.46,324.46 L78.05,325.20 L78.64,325.92 L79.24,326.65 L79.84,327.37 L80.45,328.08 L81.06,328.79 L81.67,329.50 L82.28,330.20 L82.90,330.90 L83.53,331.59 L84.16,332.28 L84.79,332.96 L85.43,333.64 L86.07,334.32 L86.71,334.99 L87.36,335.65 L88.01,336.31 L88.67,336.97 L89.33,337.62 L90.00,338.27 L90.66,338.91 L91.34,339.54 L92.02,340.17 L92.70,340.80 L93.39,341.42 L94.08,342.03 L94.77,342.64 L95.47,343.24 L96.18,343.84 L96.89,344.43 L97.60,345.02 L98.32,345.60 L99.04,346.18 L99.77,346.75 L100.50,347.31 L101.24,347.87 L101.98,348.42 L102.73,348.97 L103.48,349.51 L104.23,350.04 L104.99,350.57 L105.76,351.09 L106.53,351.60 L107.30,352.11 L108.08,352.62 L108.87,353.11 L109.66,353.60 L110.45,354.08 L111.25,354.56 L112.06,355.03 L112.87,355.49 L113.69,355.95 L114.51,356.40 L115.33,356.84 L116.16,357.28 L117.00,357.70 L117.84,358.13 L118.69,358.54 L119.54,358.95 L120.40,359.35 L121.26,359.74 L122.13,360.13 L123.00,360.50 L123.88,360.87 L124.77,361.24 L125.66,361.59 L126.55,361.94 L127.46,362.28 L128.36,362.61 L129.28,362.94 L130.20,363.26 L131.12,363.56 L132.05,363.87 L132.99,364.16 L133.93,364.44 L134.87,364.72" fill="none" stroke="#000" stroke-width="4.8" stroke-linecap="butt"/>
<path d="M24.16,221.80 L24.42,222.62 L24.67,223.43 L24.93,224.25 L25.18,225.08 L25.44,225.90 L25.69,226.73 L25.95,227.56 L26.21,228.40 L26.46,229.24 L26.72,230.08 L26.98,230.92 L27.24,231.77 L27.50,232.62 L27.76,233.47 L28.03,234.32 L28.29,235.17 L28.56,236.03 L28.82,236.89 L29.09,237.75 L29.35,238.62 L29.62,239.49 L29.89,240.35 L30.16,241.22 L30.44,242.10 L30.71,242.97 L30.98,243.84 L31.26,244.72 L31.54,245.60 L31.81,246.48 L32.09,247.36 L32.38,248.24 L32.66,249.13 L32.94,250.01 L33.23,250.90 L33.51,251.79 L33.80,252.68 L34.09,253.57 L34.39,254.46 L34.68,255.35 L34.97,256.24 L35.27,257.13 L35.57,258.03 L35.87,258.92 L36.17,259.82 L36.48,260.71 L36.78,261.61 L37.09,262.50 L37.40,263.40 L37.71,264.30 L38.03,265.19 L38.35,266.09 L38.66,266.99 L38.98,267.88 L39.31,268.78 L39.63,269.68 L39.96,270.57 L40.29,271.47 L40.62,272.36 L40.96,273.26 L41.29,274.15 L41.63,275.05 L41.97,275.94 L42.32,276.83 L42.66,277.72 L43.01,278.61 L43.36,279.50 L43.72,280.39 L44.07,281.28 L44.43,282.17 L44.80,283.05 L45.16,283.94 L45.53,284.82 L45.90,285.70 L46.27,286.59 L46.65,287.46 L47.03,288.34 L47.41,289.22 L47.80,290.09 L48.19,290.97 L48.58,291.84 L48.97,292.71 L49.37,293.57 L49.77,294.44 L50.17,295.30 L50.58,296.16 L50.99,297.02 L51.41,297.88 L51.82,298.73 L52.24,299.58 L52.67,300.43 L53.09,301.28 L53.52,302.12 L53.96,302.96 L54.40,303.80 L54.84,304.64 L55.28,305.47 L55.73,306.30 L56.18,307.13 L56.64,307.96 L57.10,308.78 L57.56,309.60 L58.03,310.41 L58.50,311.22 L58.98,312.03 L59.45,312.84 L59.94,313.64 L60.42,314.44 L60.92,315.23 L61.41,316.02 L61.91,316.81 L62.41,317.59 L62.92,318.37 L63.43,319.15 L63.95,319.92 L64.47,320.68 L64.99,321.45 L65.52,322.21 L66.05,322.96 L66.59,323.71 L67.13,324.46 L67.67,325.20 L68.22,325.94 L68.78,326.67 L69.34,327.40 L69.90,328.12 L70.47,328.84 L71.04,329.55 L71.62,330.26 L72.20,330.97 L72.79,331.67 L73.38,332.36 L73.98,333.05 L74.58,333.73 L75.19,334.41 L75.80,335.08 L76.42,335.75 L77.04,336.41 L77.66,337.07 L78.30,337.72 L78.93,338.36 L79.57,339.00 L80.22,339.64 L80.87,340.26 L81.53,340.89 L82.19,341.50 L82.86,342.11 L83.53,342.72 L84.21,343.31 L84.90,343.90 L85.59,344.49 L86.28,345.07 L86.98,345.64 L87.69,346.21 L88.40,346.76 L89.11,347.32 L89.84,347.86 L90.56,348.40 L91.30,348.93 L92.04,349.46 L92.78,349.98 L93.53,350.49 L94.29,350.99 L95.05,351.49 L95.82,351.98 L96.60,352.46 L97.38,352.94 L98.16,353.40 L98.96,353.86 L99.75,354.32 L100.56,354.76 L101.37,355.20 L102.19,355.63 L103.01,356.05 L103.84,356.46 L104.67,356.87 L105.52,357.27 L106.36,357.66 L107.22,358.04 L108.08,358.41 L108.95,358.78 L109.82,359.14 L110.70,359.49 L111.59,359.83 L112.48,360.16 L113.38,360.48 L114.29,360.80 L115.20,361.10 L116.12,361.40 L117.05,361.69 L117.98,361.97 L118.92,362.24 L119.87,362.50 L120.82,362.75 L121.78,362.99 L122.75,363.23 L123.73,363.45 L124.71,363.67 L125.70,363.87 L126.69,364.07" fill="none" stroke="#f00" stroke-width="1.3"/>
<path d="M25.08,279.79 L25.38,280.43 L25.68,281.07 L25.99,281.72 L26.30,282.35 L26.61,282.99 L26.93,283.62 L27.25,284.25 L27.57,284.88 L27.90,285.50 L28.23,286.13 L28.56,286.75 L28.90,287.36 L29.23,287.98 L29.58,288.59 L29.92,289.20 L30.27,289.81 L30.62,290.41 L30.98,291.01 L31.34,291.61 L31.70,292.21 L32.06,292.81 L32.43,293.40 L32.80,293.99 L33.18,294.58 L33.55,295.16 L33.93,295.74 L34.31,296.32 L34.70,296.90 L35.09,297.48 L35.48,298.05 L35.87,298.62 L36.27,299.19 L36.67,299.75 L37.07,300.32 L37.48,300.88 L37.89,301.43 L38.30,301.99 L38.71,302.54 L39.13,303.09 L39.55,303.64 L39.97,304.19 L40.40,304.73 L40.82,305.27 L41.25,305.81 L41.69,306.35 L42.12,306.88 L42.56,307.41 L43.00,307.94 L43.45,308.47 L43.89,309.00 L44.34,309.52 L44.79,310.04 L45.25,310.56 L45.70,311.07 L46.16,311.58 L46.62,312.09 L47.09,312.60 L47.55,313.11 L48.02,313.61 L48.49,314.11 L48.97,314.61 L49.44,315.11 L49.92,315.60 L50.40,316.10 L50.88,316.59 L51.37,317.07 L51.86,317.56 L52.35,318.04 L52.84,318.52 L53.33,319.00 L53.83,319.48 L54.33,319.95 L54.83,320.42 L55.33,320.89 L55.84,321.36 L56.35,321.82 L56.85,322.29 L57.37,322.75 L57.88,323.20 L58.40,323.66 L58.91,324.11 L59.43,324.57 L59.96,325.02 L60.48,325.46 L61.01,325.91 L61.54,326.35 L62.07,326.79 L62.60,327.23 L63.13,327.66 L63.67,328.10 L64.21,328.53 L64.75,328.96 L65.29,329.39 L65.83,329.81 L66.38,330.24 L66.92,330.66 L67.47,331.08 L68.02,331.49 L68.58,331.91 L69.13,332.32 L69.69,332.73 L70.24,333.14 L70.80,333.54 L71.36,333.95 L71.93,334.35 L72.49,334.75 L73.06,335.15 L73.62,335.54 L74.19,335.93 L74.77,336.32 L75.34,336.71 L75.91,337.10 L76.49,337.49 L77.06,337.87 L77.64,338.25 L78.22,338.63 L78.80,339.00 L79.39,339.38 L79.97,339.75 L80.56,340.12 L81.15,340.49 L81.73,340.86 L82.32,341.22 L82.92,341.58 L83.51,341.94 L84.10,342.30 L84.70,342.66 L85.29,343.01 L85.89,343.36 L86.49,343.71 L87.09,344.06 L87.69,344.41 L88.30,344.75 L88.90,345.09 L89.51,345.43 L90.11,345.77 L90.72,346.11 L91.33,346.44 L91.94,346.77 L92.55,347.10 L93.16,347.43 L93.77,347.76 L94.39,348.08 L95.00,348.41 L95.62,348.73 L96.24,349.05 L96.85,349.36 L97.47,349.68 L98.09,349.99 L98.71,350.30 L99.34,350.61 L99.96,350.92 L100.58,351.22 L101.21,351.52 L101.83,351.83 L102.46,352.12 L103.09,352.42 L103.71,352.72 L104.34,353.01 L104.97,353.30 L105.60,353.59 L106.23,353.88 L106.86,354.17 L107.49,354.45 L108.13,354.73 L108.76,355.02 L109.39,355.29 L110.03,355.57 L110.66,355.85 L111.30,356.12 L111.94,356.39 L112.57,356.66 L113.21,356.93 L113.85,357.19 L114.49,357.46 L115.13,357.72 L115.77,357.98 L116.41,358.24 L117.05,358.50 L117.69,358.75 L118.33,359.00 L118.97,359.26 L119.61,359.51 L120.26,359.75 L120.90,360.00 L121.54,360.25 L122.19,360.49 L122.83,360.73 L123.47,360.97 L124.12,361.21 L124.76,361.44 L125.41,361.68 L126.05,361.91 L126.70,362.14 L127.34,362.37 L127.99,362.59 L128.63,362.82 L129.28,363.04 L129.93,363.26" fill="none" stroke="#000" stroke-width="1.5"/>
<path d="M23.75,301.71 L24.19,302.34 L24.64,302.35 L25.10,302.73 L25.57,303.86 L26.04,304.04 L26.52,304.64 L27.01,306.04 L27.51,306.12 L28.02,308.27 L28.53,307.67 L29.06,307.30 L29.58,308.55 L30.12,308.80 L30.66,308.69 L31.21,310.14 L31.77,309.56 L32.33,308.76 L32.90,311.32 L33.47,310.99 L34.05,312.58 L34.64,311.84 L35.23,311.97 L35.83,313.89 L36.43,312.87 L37.04,313.98 L37.65,315.08 L38.27,314.75 L38.89,315.04 L39.52,315.54 L40.15,316.34 L40.79,315.82 L41.43,316.99 L42.07,317.35 L42.72,318.69 L43.37,317.60 L44.03,317.65 L44.69,318.93 L45.35,318.67 L46.02,319.41 L46.69,319.68 L47.36,320.61 L48.04,319.96 L48.72,320.62 L49.40,319.61 L50.09,320.87 L50.78,322.54 L51.47,321.66 L52.17,321.99 L52.87,322.04 L53.57,323.36 L54.27,323.47 L54.97,323.04 L55.68,324.39 L56.39,324.49 L57.10,325.08 L57.82,324.63 L58.53,326.26 L59.25,325.84 L59.97,325.86 L60.69,325.96 L61.41,326.42 L62.13,327.33 L62.86,327.02 L63.58,328.07 L64.31,328.10 L65.04,328.83 L65.77,328.84 L66.50,328.66 L67.23,327.94 L67.96,329.46 L68.69,330.03 L69.42,329.98 L70.15,330.50 L70.89,330.23 L71.62,330.58 L72.35,330.57 L73.08,332.13 L73.82,331.76 L74.55,331.70 L75.28,331.54 L76.01,332.48 L76.75,333.66 L77.48,333.42 L78.21,333.06 L78.94,334.54 L79.67,334.84 L80.40,334.89 L81.12,335.09 L81.85,335.59 L82.58,335.55 L83.30,335.98 L84.03,335.43 L84.75,336.99 L85.47,336.59 L86.19,337.88 L86.91,335.95 L87.63,337.77 L88.35,338.23 L89.06,337.82 L89.78,338.57 L90.49,339.04 L91.20,339.26 L91.91,338.97 L92.62,339.51 L93.32,340.46 L94.02,340.93 L94.73,340.61 L95.42,340.92 L96.12,341.32 L96.82,342.11 L97.51,341.29 L98.20,341.48 L98.89,342.62 L99.57,342.28 L100.26,342.91 L100.94,343.63 L101.61,344.20 L102.29,343.69 L102.96,345.08 L103.63,344.02 L104.30,345.66 L104.96,344.86 L105.62,345.39 L106.28,346.82 L106.93,346.61 L107.58,346.78 L108.23,347.35 L108.88,348.24 L109.52,348.34 L110.16,348.75 L110.79,349.74 L111.42,349.17 L112.05,349.71 L112.67,350.09 L113.29,351.44 L113.90,351.76 L114.52,352.34 L115.12,352.04 L115.73,352.41 L116.33,353.40 L116.92,353.15 L117.51,354.27 L118.10,354.66 L118.68,354.33 L119.26,355.13 L119.83,355.58 L120.40,357.07 L120.96,358.01 L121.52,357.01 L122.07,357.56 L122.62,356.79 L123.17,358.66 L123.71,359.04 L124.24,358.96 L124.77,360.50 L125.30,359.73 L125.81,360.99 L126.33,361.72 L126.84,361.49" fill="none" stroke="#000" stroke-width="1.6"/>
</g>
<rect x="24.5" y="202.0" width="223.7" height="162.3" fill="none" stroke="#222" stroke-width="1.1"/>
<path d="M24.50,364.3v-3.4M24.50,202.0v3.4M31.49,364.3v-1.6M31.49,202.0v1.6M38.48,364.3v-3.4M38.48,202.0v3.4M45.47,364.3v-1.6M45.47,202.0v1.6M52.46,364.3v-3.4M52.46,202.0v3.4M59.45,364.3v-1.6M59.45,202.0v1.6M66.44,364.3v-3.4M66.44,202.0v3.4M73.43,364.3v-1.6M73.43,202.0v1.6M80.42,364.3v-3.4M80.42,202.0v3.4M87.42,364.3v-1.6M87.42,202.0v1.6M94.41,364.3v-3.4M94.41,202.0v3.4M101.40,364.3v-1.6M101.40,202.0v1.6M108.39,364.3v-3.4M108.39,202.0v3.4M115.38,364.3v-1.6M115.38,202.0v1.6M122.37,364.3v-3.4M122.37,202.0v3.4M129.36,364.3v-1.6M129.36,202.0v1.6M136.35,364.3v-3.4M136.35,202.0v3.4M143.34,364.3v-1.6M143.34,202.0v1.6M150.33,364.3v-3.4M150.33,202.0v3.4M157.32,364.3v-1.6M157.32,202.0v1.6M164.31,364.3v-3.4M164.31,202.0v3.4M171.30,364.3v-1.6M171.30,202.0v1.6M178.29,364.3v-3.4M178.29,202.0v3.4M185.28,364.3v-1.6M185.28,202.0v1.6M192.27,364.3v-3.4M192.27,202.0v3.4M199.27,364.3v-1.6M199.27,202.0v1.6M206.26,364.3v-3.4M206.26,202.0v3.4M213.25,364.3v-1.6M213.25,202.0v1.6M220.24,364.3v-3.4M220.24,202.0v3.4M227.23,364.3v-1.6M227.23,202.0v1.6M234.22,364.3v-3.4M234.22,202.0v3.4M241.21,364.3v-1.6M241.21,202.0v1.6M248.20,364.3v-3.4M248.20,202.0v3.4M24.5,364.30h3.4M24.5,355.28h1.6M24.5,346.27h3.4M24.5,337.25h1.6M24.5,328.23h3.4M24.5,319.22h1.6M24.5,310.20h3.4M24.5,301.18h1.6M24.5,292.17h3.4M24.5,283.15h1.6M24.5,274.13h3.4M24.5,265.12h1.6M24.5,256.10h3.4M24.5,247.08h1.6M24.5,238.07h3.4M24.5,229.05h1.6M24.5,220.03h3.4M24.5,211.02h1.6M24.5,202.00h3.4M248.2,364.30h-3.4M248.2,356.92h-1.6M248.2,349.55h-3.4M248.2,342.17h-1.6M248.2,334.79h-3.4M248.2,327.41h-1.6M248.2,320.04h-3.4M248.2,312.66h-1.6M248.2,305.28h-3.4M248.2,297.90h-1.6M248.2,290.53h-3.4M248.2,283.15h-1.6M248.2,275.77h-3.4M248.2,268.40h-1.6M248.2,261.02h-3.4M248.2,253.64h-1.6M248.2,246.26h-3.4M248.2,238.89h-1.6M248.2,231.51h-3.4M248.2,224.13h-1.6M248.2,216.75h-3.4M248.2,209.38h-1.6M248.2,202.00h-3.4" stroke="#222" stroke-width="1" fill="none"/>
<g style="font-size:7.7px"><text x="21.20" y="366.90" text-anchor="end">0</text><text x="21.20" y="348.87" text-anchor="end">10</text><text x="21.20" y="330.83" text-anchor="end">20</text><text x="21.20" y="312.80" text-anchor="end">30</text><text x="21.20" y="294.77" text-anchor="end">40</text><text x="21.20" y="276.73" text-anchor="end">50</text><text x="21.20" y="258.70" text-anchor="end">60</text><text x="21.20" y="240.67" text-anchor="end">70</text><text x="21.20" y="222.63" text-anchor="end">80</text><text x="21.20" y="204.60" text-anchor="end">90</text><text x="24.50" y="374.70" text-anchor="middle">0</text><text x="38.48" y="374.70" text-anchor="middle">10</text><text x="52.46" y="374.70" text-anchor="middle">20</text><text x="66.44" y="374.70" text-anchor="middle">30</text><text x="80.42" y="374.70" text-anchor="middle">40</text><text x="94.41" y="374.70" text-anchor="middle">50</text><text x="108.39" y="374.70" text-anchor="middle">60</text><text x="122.37" y="374.70" text-anchor="middle">70</text><text x="136.35" y="374.70" text-anchor="middle">80</text><text x="150.33" y="374.70" text-anchor="middle">90</text><text x="164.31" y="374.70" text-anchor="middle">100</text><text x="178.29" y="374.70" text-anchor="middle">110</text><text x="192.27" y="374.70" text-anchor="middle">120</text><text x="206.26" y="374.70" text-anchor="middle">130</text><text x="220.24" y="374.70" text-anchor="middle">140</text><text x="234.22" y="374.70" text-anchor="middle">150</text><text x="248.20" y="374.70" text-anchor="middle">160</text><text x="251.70" y="366.90">0.0</text><text x="251.70" y="352.15">0.5</text><text x="251.70" y="337.39">1.0</text><text x="251.70" y="322.64">1.5</text><text x="251.70" y="307.88">2.0</text><text x="251.70" y="293.13">2.5</text><text x="251.70" y="278.37">3.0</text><text x="251.70" y="263.62">3.5</text><text x="251.70" y="248.86">4.0</text><text x="251.70" y="234.11">4.5</text><text x="251.70" y="219.35">5.0</text><text x="251.70" y="204.60">5.5</text></g>
<text transform="translate(10.00,283.15) rotate(-90)" text-anchor="middle" style="font-size:8.7px">Pressure (kPa)</text>
<text transform="translate(271.00,280.15) rotate(-90)" text-anchor="middle" style="font-size:9.1px">PDR(kPa/s)</text>
<text x="136.35" y="388.60" text-anchor="middle" style="font-size:8.7px">Time (s)</text>
<text x="49.40" y="221.90" style="font-size:12px">c</text>
<rect x="96.50" y="206.80" width="121" height="21.7" fill="#fff" stroke="#777" stroke-width="0.9"/>
<path d="M100.30,212.70h20" stroke="#666" stroke-width="0.8"/>
<rect x="108.60" y="210.90" width="3.7" height="3.6" fill="#000"/>
<path d="M100.30,223.70h20" stroke="#f44" stroke-width="0.8"/>
<circle cx="110.50" cy="223.70" r="1.1" fill="#f00"/>
<text x="123.40" y="215.10" style="font-size:8.7px">Measured pressure(kPa)</text>
<text x="123.40" y="226.60" style="font-size:8.7px">calculated pressure(kPa)</text>
<path d="M104.70,236.20l1.7,-3l1.7,3z" fill="#000"/>
<text x="119.00" y="237.80" style="font-size:8.7px">Measured PDR(kPa/s)</text>
<circle cx="106.40" cy="245.00" r="1.3" fill="#000"/>
<text x="119.00" y="248.30" style="font-size:8.7px">calculated PDR(kPa/s)</text>
<g style="font-size:8.75px">
<text x="181.50" y="275.20">H=30 mm</text>
<text x="181.50" y="285.70">d<tspan dy="2.3" style="font-size:6.4px">OR</tspan><tspan dy="-2.3">=0.276 mm</tspan></text>
<text x="181.50" y="299.00">P<tspan dy="2.3" style="font-size:6.4px">g</tspan><tspan dy="-2.3">=80 kPa</tspan></text>
<text x="181.50" y="311.90">V<tspan dy="2.3" style="font-size:6.4px">g</tspan><tspan dy="-2.3">=365.59 mL</tspan></text>
</g>
<clipPath id="clipd"><rect x="298.4" y="201.1" width="223.6" height="162.5"/></clipPath>
<g clip-path="url(#clipd)">
<path d="M298.51,220.70 L298.62,221.47 L298.73,222.24 L298.84,223.01 L298.95,223.78 L299.07,224.55 L299.19,225.32 L299.31,226.09 L299.43,226.87 L299.55,227.64 L299.67,228.41 L299.80,229.18 L299.93,229.95 L300.06,230.72 L300.19,231.50 L300.32,232.27 L300.46,233.04 L300.59,233.81 L300.73,234.58 L300.87,235.36 L301.01,236.13 L301.16,236.90 L301.30,237.68 L301.45,238.45 L301.60,239.22 L301.75,239.99 L301.90,240.77 L302.05,241.54 L302.21,242.31 L302.37,243.08 L302.53,243.86 L302.69,244.63 L302.85,245.40 L303.02,246.17 L303.18,246.94 L303.35,247.72 L303.52,248.49 L303.70,249.26 L303.87,250.03 L304.05,250.80 L304.22,251.57 L304.40,252.34 L304.58,253.11 L304.77,253.88 L304.95,254.65 L305.14,255.42 L305.33,256.19 L305.52,256.96 L305.71,257.73 L305.91,258.50 L306.10,259.27 L306.30,260.04 L306.50,260.81 L306.71,261.57 L306.91,262.34 L307.12,263.11 L307.32,263.87 L307.53,264.64 L307.74,265.41 L307.96,266.17 L308.17,266.94 L308.39,267.70 L308.61,268.46 L308.83,269.23 L309.05,269.99 L309.28,270.75 L309.51,271.51 L309.74,272.28 L309.97,273.04 L310.20,273.80 L310.43,274.56 L310.67,275.32 L310.91,276.08 L311.15,276.83 L311.39,277.59 L311.64,278.35 L311.88,279.10 L312.13,279.86 L312.38,280.62 L312.64,281.37 L312.89,282.12 L313.15,282.88 L313.41,283.63 L313.67,284.38 L313.93,285.13 L314.19,285.88 L314.46,286.63 L314.73,287.38 L315.00,288.13 L315.27,288.88 L315.55,289.62 L315.82,290.37 L316.10,291.11 L316.38,291.86 L316.66,292.60 L316.95,293.34 L317.24,294.09 L317.52,294.83 L317.82,295.57 L318.11,296.30 L318.40,297.04 L318.70,297.78 L319.00,298.52 L319.30,299.25 L319.60,299.99 L319.91,300.72 L320.22,301.45 L320.53,302.18 L320.84,302.91 L321.15,303.64 L321.47,304.37 L321.78,305.10 L322.10,305.83 L322.43,306.55 L322.75,307.28 L323.08,308.00 L323.41,308.72 L323.74,309.44 L324.07,310.16 L324.40,310.88 L324.74,311.60 L325.08,312.31 L325.42,313.03 L325.76,313.74 L326.11,314.46 L326.46,315.17 L326.81,315.88 L327.16,316.59 L327.51,317.30 L327.87,318.00 L328.23,318.71 L328.59,319.41 L328.95,320.12 L329.32,320.82 L329.68,321.52 L330.05,322.22 L330.42,322.92 L330.80,323.61 L331.17,324.31 L331.55,325.00 L331.93,325.69 L332.31,326.39 L332.70,327.08 L333.08,327.76 L333.47,328.45 L333.87,329.14 L334.26,329.82 L334.65,330.50 L335.05,331.18 L335.45,331.86 L335.86,332.54 L336.26,333.22 L336.67,333.89 L337.08,334.57 L337.49,335.24 L337.90,335.91 L338.32,336.58 L338.74,337.25 L339.16,337.91 L339.58,338.58 L340.00,339.24 L340.43,339.90 L340.86,340.56 L341.29,341.22 L341.73,341.87 L342.16,342.53 L342.60,343.18 L343.04,343.83 L343.49,344.48 L343.93,345.13 L344.38,345.77 L344.83,346.42 L345.28,347.06 L345.74,347.70 L346.20,348.34 L346.65,348.97 L347.12,349.61 L347.58,350.24 L348.05,350.87 L348.52,351.50 L348.99,352.13 L349.46,352.76 L349.94,353.38 L350.42,354.00 L350.90,354.63 L351.38,355.24 L351.87,355.86 L352.35,356.47 L352.84,357.09 L353.34,357.70 L353.83,358.31 L354.33,358.91 L354.83,359.52 L355.33,360.12 L355.83,360.72 L356.34,361.32 L356.85,361.92 L357.36,362.51 L357.88,363.11 L358.39,363.70" fill="none" stroke="#000" stroke-width="4.9" stroke-linecap="butt"/>
<path d="M297.81,220.99 L297.94,221.74 L298.07,222.49 L298.19,223.25 L298.32,224.01 L298.44,224.77 L298.57,225.53 L298.69,226.30 L298.82,227.07 L298.94,227.84 L299.07,228.61 L299.19,229.39 L299.32,230.17 L299.44,230.95 L299.56,231.73 L299.69,232.51 L299.81,233.30 L299.94,234.09 L300.06,234.88 L300.19,235.68 L300.31,236.47 L300.44,237.27 L300.56,238.07 L300.69,238.88 L300.82,239.68 L300.94,240.49 L301.07,241.29 L301.20,242.10 L301.32,242.91 L301.45,243.73 L301.58,244.54 L301.71,245.36 L301.84,246.18 L301.97,246.99 L302.11,247.82 L302.24,248.64 L302.37,249.46 L302.51,250.29 L302.64,251.11 L302.78,251.94 L302.91,252.77 L303.05,253.60 L303.19,254.43 L303.33,255.26 L303.47,256.09 L303.61,256.93 L303.75,257.76 L303.90,258.60 L304.04,259.43 L304.19,260.27 L304.33,261.11 L304.48,261.95 L304.63,262.79 L304.78,263.63 L304.94,264.47 L305.09,265.31 L305.25,266.15 L305.40,266.99 L305.56,267.83 L305.72,268.68 L305.88,269.52 L306.05,270.36 L306.21,271.21 L306.38,272.05 L306.54,272.89 L306.71,273.74 L306.89,274.58 L307.06,275.42 L307.23,276.27 L307.41,277.11 L307.59,277.96 L307.77,278.80 L307.95,279.64 L308.14,280.49 L308.32,281.33 L308.51,282.17 L308.70,283.01 L308.90,283.86 L309.09,284.70 L309.29,285.54 L309.49,286.38 L309.69,287.22 L309.90,288.06 L310.10,288.89 L310.31,289.73 L310.52,290.57 L310.74,291.40 L310.95,292.24 L311.17,293.07 L311.39,293.91 L311.62,294.74 L311.84,295.57 L312.07,296.40 L312.30,297.23 L312.54,298.05 L312.77,298.88 L313.01,299.71 L313.26,300.53 L313.50,301.35 L313.75,302.17 L314.00,302.99 L314.25,303.81 L314.51,304.63 L314.77,305.44 L315.03,306.26 L315.30,307.07 L315.57,307.88 L315.84,308.68 L316.12,309.49 L316.40,310.30 L316.68,311.10 L316.96,311.90 L317.25,312.70 L317.54,313.49 L317.84,314.29 L318.14,315.08 L318.44,315.87 L318.74,316.66 L319.05,317.45 L319.36,318.23 L319.68,319.01 L320.00,319.79 L320.32,320.57 L320.65,321.34 L320.98,322.11 L321.31,322.88 L321.65,323.65 L321.99,324.41 L322.34,325.18 L322.69,325.93 L323.04,326.69 L323.40,327.44 L323.76,328.19 L324.13,328.94 L324.50,329.68 L324.87,330.43 L325.25,331.16 L325.63,331.90 L326.01,332.63 L326.40,333.36 L326.80,334.09 L327.20,334.81 L327.60,335.53 L328.01,336.24 L328.42,336.96 L328.83,337.67 L329.25,338.37 L329.68,339.07 L330.11,339.77 L330.54,340.47 L330.98,341.16 L331.42,341.85 L331.87,342.53 L332.32,343.21 L332.78,343.89 L333.24,344.56 L333.71,345.23 L334.18,345.89 L334.66,346.55 L335.14,347.20 L335.63,347.85 L336.13,348.49 L336.63,349.12 L337.14,349.75 L337.65,350.37 L338.18,350.98 L338.71,351.58 L339.25,352.18 L339.79,352.76 L340.34,353.34 L340.91,353.91 L341.48,354.47 L342.05,355.02 L342.64,355.56 L343.24,356.08 L343.84,356.60 L344.46,357.11 L345.08,357.60 L345.72,358.08 L346.36,358.55 L347.02,359.01 L347.68,359.45 L348.36,359.88 L349.05,360.29 L349.75,360.70 L350.46,361.08 L351.18,361.46 L351.91,361.81 L352.66,362.16 L353.42,362.48 L354.19,362.79 L354.97,363.08 L355.77,363.36 L356.58,363.62 L357.40,363.86 L358.24,364.09 L359.09,364.29 L359.95,364.48 L360.83,364.64 L361.72,364.79" fill="none" stroke="#f00" stroke-width="1.3"/>
<path d="M329.46,319.06 L329.59,319.30 L329.71,319.53 L329.84,319.77 L329.96,320.00 L330.08,320.24 L330.21,320.47 L330.33,320.71 L330.46,320.95 L330.58,321.19 L330.70,321.43 L330.82,321.67 L330.95,321.90 L331.07,322.15 L331.19,322.39 L331.31,322.63 L331.43,322.87 L331.55,323.11 L331.68,323.35 L331.80,323.59 L331.92,323.84 L332.04,324.08 L332.16,324.32 L332.28,324.57 L332.40,324.81 L332.52,325.06 L332.64,325.30 L332.76,325.55 L332.88,325.79 L333.00,326.04 L333.12,326.29 L333.24,326.53 L333.36,326.78 L333.48,327.03 L333.60,327.27 L333.72,327.52 L333.84,327.77 L333.95,328.02 L334.07,328.26 L334.19,328.51 L334.31,328.76 L334.43,329.01 L334.55,329.26 L334.67,329.51 L334.79,329.76 L334.91,330.00 L335.03,330.25 L335.15,330.50 L335.27,330.75 L335.39,331.00 L335.51,331.25 L335.63,331.50 L335.75,331.75 L335.87,332.00 L335.99,332.25 L336.11,332.50 L336.24,332.75 L336.36,333.00 L336.48,333.25 L336.60,333.50 L336.72,333.75 L336.84,334.00 L336.97,334.25 L337.09,334.49 L337.21,334.74 L337.33,334.99 L337.46,335.24 L337.58,335.49 L337.71,335.74 L337.83,335.99 L337.95,336.24 L338.08,336.49 L338.20,336.73 L338.33,336.98 L338.45,337.23 L338.58,337.48 L338.71,337.73 L338.83,337.97 L338.96,338.22 L339.09,338.47 L339.22,338.71 L339.35,338.96 L339.47,339.21 L339.60,339.45 L339.73,339.70 L339.86,339.94 L339.99,340.19 L340.12,340.43 L340.26,340.68 L340.39,340.92 L340.52,341.16 L340.65,341.41 L340.79,341.65 L340.92,341.89 L341.06,342.13 L341.19,342.38 L341.33,342.62 L341.46,342.86 L341.60,343.10 L341.74,343.34 L341.87,343.58 L342.01,343.82 L342.15,344.06 L342.29,344.29 L342.43,344.53 L342.57,344.77 L342.71,345.01 L342.86,345.24 L343.00,345.48 L343.14,345.71 L343.29,345.95 L343.43,346.18 L343.58,346.41 L343.72,346.65 L343.87,346.88 L344.02,347.11 L344.16,347.34 L344.31,347.57 L344.46,347.80 L344.61,348.03 L344.77,348.26 L344.92,348.49 L345.07,348.72 L345.22,348.94 L345.38,349.17 L345.53,349.39 L345.69,349.62 L345.85,349.84 L346.00,350.06 L346.16,350.28 L346.32,350.51 L346.48,350.73 L346.64,350.95 L346.81,351.17 L346.97,351.38 L347.13,351.60 L347.30,351.82 L347.46,352.03 L347.63,352.25 L347.80,352.46 L347.97,352.68 L348.14,352.89 L348.31,353.10 L348.48,353.31 L348.65,353.52 L348.82,353.73 L349.00,353.94 L349.17,354.14 L349.35,354.35 L349.53,354.55 L349.71,354.76 L349.89,354.96 L350.07,355.16 L350.25,355.36 L350.43,355.56 L350.61,355.76 L350.80,355.96 L350.99,356.16 L351.17,356.35 L351.36,356.55 L351.55,356.74 L351.74,356.93 L351.93,357.13 L352.13,357.32 L352.32,357.51 L352.51,357.69 L352.71,357.88 L352.91,358.07 L353.11,358.25 L353.31,358.43 L353.51,358.62 L353.71,358.80 L353.91,358.98 L354.12,359.16 L354.33,359.34 L354.53,359.51 L354.74,359.69 L354.95,359.86 L355.16,360.03 L355.38,360.21 L355.59,360.38 L355.81,360.54 L356.02,360.71 L356.24,360.88 L356.46,361.04 L356.68,361.21 L356.90,361.37 L357.13,361.53 L357.35,361.69 L357.58,361.85 L357.80,362.01 L358.03,362.16 L358.26,362.31 L358.50,362.47 L358.73,362.62 L358.96,362.77 L359.20,362.92 L359.44,363.06 L359.68,363.21 L359.92,363.35" fill="none" stroke="#000" stroke-width="2.8"/>
<path d="M298.00,218.80l1.6,-2.8l1.6,2.8z" fill="#000"/>
<path d="M299.00,266.20l1.6,-2.8l1.6,2.8z" fill="#000"/>
<path d="M300.10,265.10l1.6,-2.8l1.6,2.8z" fill="#000"/>
<path d="M301.90,273.70l1.6,-2.8l1.6,2.8z" fill="#000"/>
<path d="M303.00,274.90l1.6,-2.8l1.6,2.8z" fill="#000"/>
<path d="M305.90,282.30l1.6,-2.8l1.6,2.8z" fill="#000"/>
<path d="M307.00,283.50l1.6,-2.8l1.6,2.8z" fill="#000"/>
<path d="M308.80,285.80l1.6,-2.8l1.6,2.8z" fill="#000"/>
<path d="M309.90,288.10l1.6,-2.8l1.6,2.8z" fill="#000"/>
<path d="M323.10,304.50l1.6,-2.8l1.6,2.8z" fill="#000"/>
<path d="M324.00,305.50l1.6,-2.8l1.6,2.8z" fill="#000"/>
<path d="M325.30,310.90l1.6,-2.8l1.6,2.8z" fill="#000"/>
<path d="M326.00,309.90l1.6,-2.8l1.6,2.8z" fill="#000"/>
<path d="M327.90,314.00l1.6,-2.8l1.6,2.8z" fill="#000"/>
<path d="M329.90,315.80l1.6,-2.8l1.6,2.8z" fill="#000"/>
<path d="M330.60,317.00l1.6,-2.8l1.6,2.8z" fill="#000"/>
<path d="M333.00,320.10l1.6,-2.8l1.6,2.8z" fill="#000"/>
<path d="M334.10,319.60l1.6,-2.8l1.6,2.8z" fill="#000"/>
<path d="M336.30,326.10l1.6,-2.8l1.6,2.8z" fill="#000"/>
<path d="M337.60,326.70l1.6,-2.8l1.6,2.8z" fill="#000"/>
<path d="M339.30,330.10l1.6,-2.8l1.6,2.8z" fill="#000"/>
<path d="M341.00,332.40l1.6,-2.8l1.6,2.8z" fill="#000"/>
<path d="M342.30,334.00l1.6,-2.8l1.6,2.8z" fill="#000"/>
<path d="M342.80,335.40l1.6,-2.8l1.6,2.8z" fill="#000"/>
<path d="M344.80,335.90l1.6,-2.8l1.6,2.8z" fill="#000"/>
<path d="M345.20,338.00l1.6,-2.8l1.6,2.8z" fill="#000"/>
<path d="M345.90,339.80l1.6,-2.8l1.6,2.8z" fill="#000"/>
<path d="M348.00,342.00l1.6,-2.8l1.6,2.8z" fill="#000"/>
<path d="M349.20,343.00l1.6,-2.8l1.6,2.8z" fill="#000"/>
<path d="M350.40,343.80l1.6,-2.8l1.6,2.8z" fill="#000"/>
<path d="M351.20,346.00l1.6,-2.8l1.6,2.8z" fill="#000"/>
<path d="M351.70,347.80l1.6,-2.8l1.6,2.8z" fill="#000"/>
<path d="M353.20,349.90l1.6,-2.8l1.6,2.8z" fill="#000"/>
<path d="M354.20,353.20l1.6,-2.8l1.6,2.8z" fill="#000"/>
<path d="M355.10,352.40l1.6,-2.8l1.6,2.8z" fill="#000"/>
<path d="M355.20,354.50l1.6,-2.8l1.6,2.8z" fill="#000"/>
<path d="M356.20,356.90l1.6,-2.8l1.6,2.8z" fill="#000"/>
<path d="M356.90,358.80l1.6,-2.8l1.6,2.8z" fill="#000"/>
</g>
<rect x="298.4" y="201.1" width="223.6" height="162.5" fill="none" stroke="#222" stroke-width="1.1"/>
<path d="M298.40,363.6v-3.4M298.40,201.1v3.4M305.39,363.6v-1.6M305.39,201.1v1.6M312.38,363.6v-3.4M312.38,201.1v3.4M319.36,363.6v-1.6M319.36,201.1v1.6M326.35,363.6v-3.4M326.35,201.1v3.4M333.34,363.6v-1.6M333.34,201.1v1.6M340.32,363.6v-3.4M340.32,201.1v3.4M347.31,363.6v-1.6M347.31,201.1v1.6M354.30,363.6v-3.4M354.30,201.1v3.4M361.29,363.6v-1.6M361.29,201.1v1.6M368.27,363.6v-3.4M368.27,201.1v3.4M375.26,363.6v-1.6M375.26,201.1v1.6M382.25,363.6v-3.4M382.25,201.1v3.4M389.24,363.6v-1.6M389.24,201.1v1.6M396.22,363.6v-3.4M396.22,201.1v3.4M403.21,363.6v-1.6M403.21,201.1v1.6M410.20,363.6v-3.4M410.20,201.1v3.4M417.19,363.6v-1.6M417.19,201.1v1.6M424.17,363.6v-3.4M424.17,201.1v3.4M431.16,363.6v-1.6M431.16,201.1v1.6M438.15,363.6v-3.4M438.15,201.1v3.4M445.14,363.6v-1.6M445.14,201.1v1.6M452.12,363.6v-3.4M452.12,201.1v3.4M459.11,363.6v-1.6M459.11,201.1v1.6M466.10,363.6v-3.4M466.10,201.1v3.4M473.09,363.6v-1.6M473.09,201.1v1.6M480.07,363.6v-3.4M480.07,201.1v3.4M487.06,363.6v-1.6M487.06,201.1v1.6M494.05,363.6v-3.4M494.05,201.1v3.4M501.04,363.6v-1.6M501.04,201.1v1.6M508.02,363.6v-3.4M508.02,201.1v3.4M515.01,363.6v-1.6M515.01,201.1v1.6M522.00,363.6v-3.4M522.00,201.1v3.4M298.4,363.60h3.4M298.4,354.57h1.6M298.4,345.54h3.4M298.4,336.52h1.6M298.4,327.49h3.4M298.4,318.46h1.6M298.4,309.43h3.4M298.4,300.41h1.6M298.4,291.38h3.4M298.4,282.35h1.6M298.4,273.32h3.4M298.4,264.29h1.6M298.4,255.27h3.4M298.4,246.24h1.6M298.4,237.21h3.4M298.4,228.18h1.6M298.4,219.16h3.4M298.4,210.13h1.6M298.4,201.10h3.4M522.0,363.60h-3.4M522.0,356.21h-1.6M522.0,348.83h-3.4M522.0,341.44h-1.6M522.0,334.05h-3.4M522.0,326.67h-1.6M522.0,319.28h-3.4M522.0,311.90h-1.6M522.0,304.51h-3.4M522.0,297.12h-1.6M522.0,289.74h-3.4M522.0,282.35h-1.6M522.0,274.96h-3.4M522.0,267.58h-1.6M522.0,260.19h-3.4M522.0,252.80h-1.6M522.0,245.42h-3.4M522.0,238.03h-1.6M522.0,230.65h-3.4M522.0,223.26h-1.6M522.0,215.87h-3.4M522.0,208.49h-1.6M522.0,201.10h-3.4" stroke="#222" stroke-width="1" fill="none"/>
<g style="font-size:7.7px"><text x="295.10" y="366.20" text-anchor="end">0</text><text x="295.10" y="348.14" text-anchor="end">10</text><text x="295.10" y="330.09" text-anchor="end">20</text><text x="295.10" y="312.03" text-anchor="end">30</text><text x="295.10" y="293.98" text-anchor="end">40</text><text x="295.10" y="275.92" text-anchor="end">50</text><text x="295.10" y="257.87" text-anchor="end">60</text><text x="295.10" y="239.81" text-anchor="end">70</text><text x="295.10" y="221.76" text-anchor="end">80</text><text x="295.10" y="203.70" text-anchor="end">90</text><text x="298.40" y="374.00" text-anchor="middle">0</text><text x="312.38" y="374.00" text-anchor="middle">10</text><text x="326.35" y="374.00" text-anchor="middle">20</text><text x="340.32" y="374.00" text-anchor="middle">30</text><text x="354.30" y="374.00" text-anchor="middle">40</text><text x="368.27" y="374.00" text-anchor="middle">50</text><text x="382.25" y="374.00" text-anchor="middle">60</text><text x="396.22" y="374.00" text-anchor="middle">70</text><text x="410.20" y="374.00" text-anchor="middle">80</text><text x="424.17" y="374.00" text-anchor="middle">90</text><text x="438.15" y="374.00" text-anchor="middle">100</text><text x="452.12" y="374.00" text-anchor="middle">110</text><text x="466.10" y="374.00" text-anchor="middle">120</text><text x="480.07" y="374.00" text-anchor="middle">130</text><text x="494.05" y="374.00" text-anchor="middle">140</text><text x="508.02" y="374.00" text-anchor="middle">150</text><text x="522.00" y="374.00" text-anchor="middle">160</text><text x="525.50" y="366.20">0.0</text><text x="525.50" y="351.43">0.5</text><text x="525.50" y="336.65">1.0</text><text x="525.50" y="321.88">1.5</text><text x="525.50" y="307.11">2.0</text><text x="525.50" y="292.34">2.5</text><text x="525.50" y="277.56">3.0</text><text x="525.50" y="262.79">3.5</text><text x="525.50" y="248.02">4.0</text><text x="525.50" y="233.25">4.5</text><text x="525.50" y="218.47">5.0</text><text x="525.50" y="203.70">5.5</text></g>
<text transform="translate(283.90,282.35) rotate(-90)" text-anchor="middle" style="font-size:8.7px">Pressure (kPa)</text>
<text transform="translate(544.80,279.35) rotate(-90)" text-anchor="middle" style="font-size:9.1px">PDR(kPa/s)</text>
<text x="410.20" y="387.90" text-anchor="middle" style="font-size:8.7px">Time (s)</text>
<text x="323.30" y="221.00" style="font-size:12px">d</text>
<rect x="370.40" y="206.60" width="121" height="21.7" fill="#fff" stroke="#777" stroke-width="0.9"/>
<path d="M374.20,212.50h20" stroke="#666" stroke-width="0.8"/>
<rect x="382.50" y="210.70" width="3.7" height="3.6" fill="#000"/>
<path d="M374.20,223.50h20" stroke="#f44" stroke-width="0.8"/>
<circle cx="384.40" cy="223.50" r="1.1" fill="#f00"/>
<text x="397.30" y="214.90" style="font-size:8.7px">Measured pressure(kPa)</text>
<text x="397.30" y="226.40" style="font-size:8.7px">calculated pressure(kPa)</text>
<path d="M378.60,236.00l1.7,-3l1.7,3z" fill="#000"/>
<text x="392.90" y="237.60" style="font-size:8.7px">Measured PDR(kPa/s)</text>
<circle cx="380.30" cy="244.80" r="1.3" fill="#000"/>
<text x="392.90" y="248.10" style="font-size:8.7px">calculated PDR(kPa/s)</text>
<g style="font-size:8.75px">
<text x="455.50" y="274.30">H=30 mm</text>
<text x="455.50" y="284.80">d<tspan dy="2.3" style="font-size:6.4px">OR</tspan><tspan dy="-2.3">=0.352 mm</tspan></text>
<text x="455.50" y="298.10">P<tspan dy="2.3" style="font-size:6.4px">g</tspan><tspan dy="-2.3">=80 kPa</tspan></text>
<text x="455.50" y="311.00">V<tspan dy="2.3" style="font-size:6.4px">g</tspan><tspan dy="-2.3">=365.59 mL</tspan></text>
</g>
</svg></body></html>
